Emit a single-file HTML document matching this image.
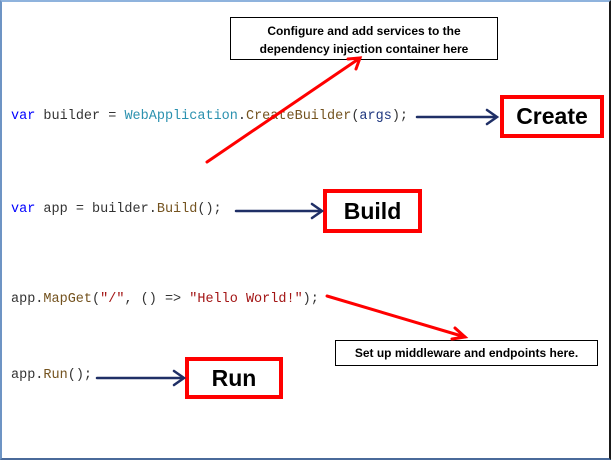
<!DOCTYPE html>
<html><head><meta charset="utf-8"><style>
*{margin:0;padding:0;box-sizing:border-box}
body{width:611px;height:460px;background:#fff;position:relative;overflow:hidden;font-family:"Liberation Sans",sans-serif}
.frame{position:absolute;left:0;top:0;width:611px;height:460px;border-left:2px solid #6d94c4;border-top:2px solid #8fb3dd;border-right:2px solid #1a1a1a;border-bottom:2px solid #4a6a9a}
.code{position:absolute;left:11px;font-family:"Liberation Mono",monospace;font-size:13.5px;color:#1f377f;white-space:pre;line-height:16px}
.k{color:#0000ff}.t{color:#2b91af}.m{color:#74531f}.s{color:#a31515}.p{color:#333}
.box{position:absolute;border:1px solid #000;background:#fff;font-weight:bold;font-size:12px;text-align:center;color:#000}
.rb{position:absolute;border:4px solid #ff0000;background:#fff;font-weight:bold;font-size:23px;display:flex;align-items:center;justify-content:center;color:#000}
</style></head><body>
<div class="frame"></div>
<div class="code" style="top:109px"><span class="k">var</span> <span class="p">builder =</span> <span class="t">WebApplication</span><span class="p">.</span><span class="m">CreateBuilder</span><span class="p">(</span>args<span class="p">);</span></div>
<div class="code" style="top:202px"><span class="k">var</span> <span class="p">app = builder.</span><span class="m">Build</span><span class="p">();</span></div>
<div class="code" style="top:292px"><span class="p">app.</span><span class="m">MapGet</span><span class="p">(</span><span class="s">"/"</span><span class="p">, () =&gt; </span><span class="s">"Hello World!"</span><span class="p">);</span></div>
<div class="code" style="top:368px"><span class="p">app.</span><span class="m">Run</span><span class="p">();</span></div>
<div class="box" style="left:230px;top:17px;width:268px;height:43px;padding-top:4px;line-height:18px">Configure and add services to the<br>dependency injection container here</div>
<div class="box" style="left:335px;top:340px;width:263px;height:26px;line-height:24px">Set up middleware and endpoints here.</div>
<div class="rb" style="left:500px;top:95px;width:104px;height:43px">Create</div>
<div class="rb" style="left:323px;top:189px;width:99px;height:44px">Build</div>
<div class="rb" style="left:185px;top:357px;width:98px;height:42px">Run</div>
<svg width="611" height="460" style="position:absolute;left:0;top:0">
<g stroke="#1f2f66" stroke-width="2.5" fill="none" stroke-linecap="round">
<line x1="417" y1="117" x2="496" y2="117"/><polyline points="487,110 497,117 487,124"/>
<line x1="236" y1="211" x2="321" y2="211"/><polyline points="312,204 322,211 312,218"/>
<line x1="97" y1="378" x2="183" y2="378"/><polyline points="174,371 184,378 174,385"/>
</g>
<g stroke="#ff0000" stroke-width="3" fill="none" stroke-linecap="round">
<line x1="207" y1="162" x2="360" y2="58"/><polyline points="348,59 360,58 356,69"/>
<line x1="327" y1="296" x2="465" y2="337"/><polyline points="455,328 465,337 452,339"/>
</g>
</svg>
</body></html>
